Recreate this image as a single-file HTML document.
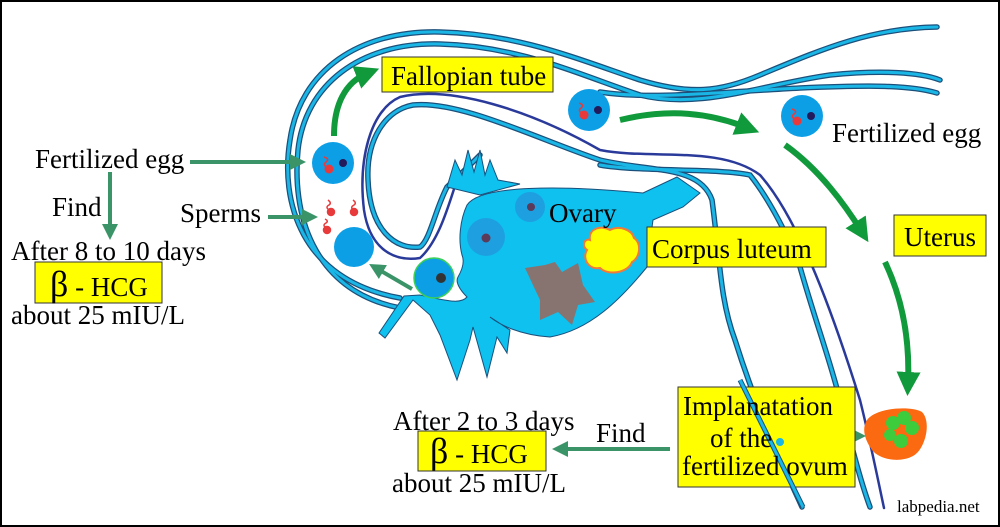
<!DOCTYPE html>
<html><head><meta charset="utf-8"><style>
html,body{margin:0;padding:0;background:#fff}
svg{display:block}
text{font-family:"Liberation Serif",serif;fill:#000}
</style></head><body>
<svg width="1000" height="527" viewBox="0 0 1000 527" xmlns="http://www.w3.org/2000/svg">
<defs>
<marker id="ag" markerWidth="4" markerHeight="4" refX="2" refY="2" orient="auto" markerUnits="strokeWidth"><path d="M0,0 L4,2 L0,4 z" fill="#119a3c"/></marker>
<marker id="at" markerWidth="4" markerHeight="4" refX="2" refY="2" orient="auto" markerUnits="strokeWidth"><path d="M0,0 L4,2 L0,4 z" fill="#3a9468"/></marker>
</defs>
<rect x="1" y="1" width="998" height="525" fill="#fff" stroke="#000" stroke-width="2"/>

<g fill="none" stroke-linecap="round">
 <g stroke="#1c4f7a" stroke-width="5.5">
  <path d="M400,298 C300,280 280,200 290,140 C300,70 360,30 440,32 C520,34 580,60 640,80 C690,95 720,92 760,75 C820,50 870,28 937,27"/>
  <path d="M400,308 C310,290 292,210 298,150 C305,85 360,42 440,44 C520,46 580,75 640,95 C700,110 760,85 830,75 C880,70 920,72 940,80"/>
  <path d="M600,92 C650,100 720,92 800,88 C870,85 910,85 937,93"/>
  <path d="M480,155 C470,165 460,175 447,187 C435,210 430,240 420,247 C395,250 370,230 368,180 C366,140 385,110 413,105 C460,100 540,140 600,160 C650,172 700,165 712,200 C720,260 720,300 735,340 C760,420 790,480 802,507"/>
  <path d="M600,165 C640,172 720,168 750,175 C770,200 790,240 800,267 C815,320 830,360 840,400 C850,440 860,480 870,507"/>
 </g>
 <g stroke="#19b6e6" stroke-width="3">
  <path d="M400,298 C300,280 280,200 290,140 C300,70 360,30 440,32 C520,34 580,60 640,80 C690,95 720,92 760,75 C820,50 870,28 937,27"/>
  <path d="M400,308 C310,290 292,210 298,150 C305,85 360,42 440,44 C520,46 580,75 640,95 C700,110 760,85 830,75 C880,70 920,72 940,80"/>
  <path d="M600,92 C650,100 720,92 800,88 C870,85 910,85 937,93"/>
  <path d="M480,155 C470,165 460,175 447,187 C435,210 430,240 420,247 C395,250 370,230 368,180 C366,140 385,110 413,105 C460,100 540,140 600,160 C650,172 700,165 712,200 C720,260 720,300 735,340 C760,420 790,480 802,507"/>
  <path d="M600,165 C640,172 720,168 750,175 C770,200 790,240 800,267 C815,320 830,360 840,400 C850,440 860,480 870,507"/>
 </g>
 <path d="M482,183 L457,180 C450,200 440,240 420,258 C395,262 370,250 364,210 C358,160 370,110 400,97 C450,85 530,110 600,150 C650,160 720,145 760,175 C800,220 835,320 860,400 C870,440 878,480 884,508" stroke="#2a3a9a" stroke-width="2.5"/>
</g>

<!-- ovary -->
<path d="M447,187 L455,160 L462,175 L468,150 L474,172 L480,150 L485,175 L490,160 L498,180 L520,184 L480,195 Z" fill="#0ec1ef" stroke="#1c4f7a" stroke-width="1"/>
<path d="M467,205 C480,185 560,185 643,193 L677,177 L700,193 L683,207 L653,220 C650,240 650,262 647,267 C620,300 590,330 550,337 C520,335 500,325 490,317 L510,330 L507,353 L497,337 L487,377 L473,327 L470,340 L457,380 L440,335 L430,315 L413,300 L385,338 L379,333 L404,296 L420,295 C445,300 460,305 467,297 C460,290 455,282 458,277 C462,270 465,262 462,255 C458,240 460,220 467,205 Z" fill="#0ec1ef" stroke="#1c4f7a" stroke-width="1"/>
<circle cx="530" cy="207" r="15" fill="#1ea0e0"/><circle cx="531" cy="207" r="4" fill="#5b3a5a"/>
<circle cx="486" cy="237" r="19" fill="#1ea0e0"/><circle cx="486" cy="238" r="4.5" fill="#5b3a5a"/>
<path d="M590,240 C588,228 602,225 610,230 C620,225 632,230 634,238 C642,243 640,258 632,262 C628,273 608,276 600,268 C588,270 582,258 587,250 C581,245 585,238 590,240 Z" fill="#ffff00" stroke="#f07a3a" stroke-width="2"/>
<path d="M525,268 L545,265 L555,262 L562,272 L578,263 L583,285 L595,302 L578,305 L572,325 L558,312 L540,320 L540,300 Z" fill="#877471"/>

<!-- eggs -->
<circle cx="434" cy="278" r="20" fill="#0d9fe6" stroke="#3cd05a" stroke-width="1.5"/><circle cx="441" cy="278" r="5" fill="#333"/>
<circle cx="354" cy="247" r="20" fill="#0d9fe6"/>
<g>
 <circle cx="333" cy="163" r="21" fill="#0d9fe6"/><circle cx="343" cy="163" r="4" fill="#221a5a"/><circle cx="329" cy="169" r="4.5" fill="#e83a3a"/><path d="M328,168 q-6,-3 -2,-6 q4,-3 -2,-5" stroke="#e83a3a" stroke-width="1.5" fill="none"/>
 <circle cx="589" cy="110" r="21" fill="#0d9fe6"/><circle cx="598" cy="110" r="4" fill="#221a5a"/><circle cx="584" cy="115" r="4.5" fill="#e83a3a"/><path d="M583,114 q-6,-3 -2,-6 q4,-3 -2,-5" stroke="#e83a3a" stroke-width="1.5" fill="none"/>
 <circle cx="802" cy="116" r="21" fill="#0d9fe6"/><circle cx="811" cy="116" r="4" fill="#221a5a"/><circle cx="797" cy="121" r="4.5" fill="#e83a3a"/><path d="M796,120 q-6,-3 -2,-6 q4,-3 -2,-5" stroke="#e83a3a" stroke-width="1.5" fill="none"/>
</g>
<g fill="#e83a3a" stroke="#e83a3a" stroke-width="1.5">
 <circle cx="331" cy="212" r="3.5"/><path d="M329,210 q-4,-3 0,-5 q3,-2 -1,-5" fill="none"/>
 <circle cx="354" cy="212" r="3.5"/><path d="M353,210 q-3,-3 1,-5 q3,-2 -1,-5" fill="none"/>
 <circle cx="327" cy="230" r="3.5"/><path d="M326,228 q-4,-3 0,-5 q3,-2 -1,-4" fill="none"/>
</g>

<!-- uterus blob -->
<path d="M866,422 C872,408 910,405 922,412 C932,422 925,450 913,456 C900,463 880,460 872,450 C865,440 862,430 866,422 Z" fill="#fb6a11"/>
<circle cx="893" cy="423" r="7" fill="#3ccc3c"/><circle cx="904" cy="418" r="7" fill="#3ccc3c"/><circle cx="912" cy="428" r="7" fill="#3ccc3c"/><circle cx="901" cy="441" r="7" fill="#3ccc3c"/><circle cx="890" cy="435" r="6" fill="#3ccc3c"/>

<g fill="none" stroke="#119a3c" stroke-width="6" marker-end="url(#ag)">
 <path d="M334,136 C334,105 345,82 368,73"/>
 <path d="M620,120 C670,108 710,113 748,128"/>
 <path d="M785,145 C820,170 845,205 862,232"/>
 <path d="M885,262 C903,300 910,340 908,384"/>
</g>
<g fill="none" stroke="#3a9468" stroke-width="4" marker-end="url(#at)">
 <path d="M190,162 L298,162"/>
 <path d="M268,217 L310,217"/>
 <path d="M110,172 L110,232"/>
 <path d="M412,289 L376,268"/>
 <path d="M670,449 L560,449"/>
 <path d="M800,436 L858,436"/>
</g>

<g fill="#ffff00" stroke="#333" stroke-width="1">
 <rect x="382" y="57" width="171" height="35"/>
 <rect x="647" y="227" width="179" height="40"/>
 <rect x="894" y="215" width="92" height="41"/>
 <rect x="35" y="262" width="127" height="41"/>
 <rect x="418" y="431" width="128" height="40"/>
 <rect x="678" y="387" width="177" height="100"/>
</g>
<path d="M740,380 L803,507" stroke="#1c4f7a" stroke-width="5" fill="none"/>
<path d="M740,380 L803,507" stroke="#19b6e6" stroke-width="3" fill="none"/>
<circle cx="780" cy="442" r="4" fill="#19b6e6"/>

<g font-size="27">
 <text x="391" y="85">Fallopian tube</text>
 <text x="652" y="258">Corpus luteum</text>
 <text x="904" y="246">Uterus</text>
 <text x="549" y="222">Ovary</text>
 <text x="35" y="168">Fertilized egg</text>
 <text x="832" y="142">Fertilized egg</text>
 <text x="52" y="216">Find</text>
 <text x="180" y="222">Sperms</text>
 <text x="11" y="260">After 8 to 10 days</text>
 <text x="50" y="296" font-size="36">β<tspan font-size="27"> - HCG</tspan></text>
 <text x="11" y="324">about 25 mIU/L</text>
 <text x="393" y="430">After 2 to 3 days</text>
 <text x="430" y="463" font-size="36">β<tspan font-size="27"> - HCG</tspan></text>
 <text x="392" y="492">about 25 mIU/L</text>
 <text x="596" y="442">Find</text>
 <text x="683" y="415">Implanatation</text>
 <text x="710" y="447">of the</text>
 <text x="682" y="475">fertilized ovum</text>
 <text x="897" y="512" font-size="17">labpedia.net</text>
</g>
</svg>
</body></html>
